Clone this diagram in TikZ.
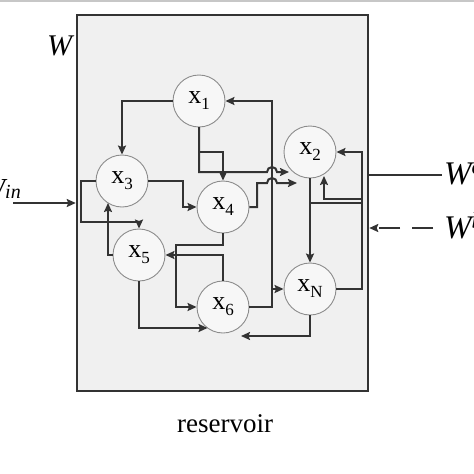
\documentclass[tikz,border=0pt]{standalone}
\usepackage{fontspec}
\setmainfont{Liberation Serif}
\usetikzlibrary{arrows.meta}
\newcommand{\neur}[1]{x\raisebox{-6pt}{\fontsize{17}{17}\selectfont #1}}
\begin{document}
\begin{tikzpicture}[x=1pt,y=-1pt,
  neuron/.style={circle,draw=black!45,line width=0.9pt,fill=white!97!black,minimum size=52pt,inner sep=0pt,font=\fontsize{26}{26}\selectfont},
  wire/.style={draw=black!80,line width=2pt},
  arr/.style={wire,-{Stealth[length=9pt,width=8pt,inset=1.5pt]}},
  lbl/.style={inner sep=0pt,font=\fontsize{30}{30}\selectfont\itshape},
  rlbl/.style={inner sep=0pt,font=\fontsize{33}{33}\selectfont\itshape},
]
\useasboundingbox (0,0) rectangle (474,474);
\fill[white] (0,0) rectangle (474,474);
\fill[black!22] (0,0) rectangle (474,2);
% reservoir box
\node[draw=black!80,line width=2.5pt,fill=black!6,minimum width=291pt,minimum height=376pt,inner sep=0pt] (res) at (222.5,203) {};
% neurons
\node[neuron] (x1) at (199,101) {\neur{1}};
\node[neuron] (x2) at (310,152) {\neur{2}};
\node[neuron] (x3) at (122,181) {\neur{3}};
\node[neuron] (x4) at (223,207) {\neur{4}};
\node[neuron] (x5) at (139,255) {\neur{5}};
\node[neuron] (x6) at (223,307) {\neur{6}};
\node[neuron] (xN) at (310,289) {\neur{N}};
% labels
\node[lbl,anchor=base west] (wres) at (47,55) {W};
\node[inner sep=0pt,anchor=base west,font=\fontsize{27}{27}\selectfont] (rlab) at (177,432) {reservoir};
\node[inner sep=0pt,anchor=base east] (win) at (21,198) {\fontsize{29}{29}\selectfont\itshape W\fontsize{20}{20}\selectfont in};
\node[rlbl,anchor=base west] (wout) at (444,184) {W\textsuperscript{out}};
\node[rlbl,anchor=base west] (wback) at (444,238) {W\textsuperscript{back}};
% coordinates
\coordinate (inS) at (13,203);
\coordinate (outE) at (442,175);
\coordinate (backS) at (433,228);
% input / output
\draw[arr] (inS) -- (inS -| res.west);
\draw[wire,line width=1.5pt] (outE -| res.east) -- (outE);
\draw[arr,dash pattern=on 21pt off 12pt] (backS) -- (backS -| res.east);
% internal connections
\draw[arr] (x1.west) -| (x3.north);
\draw[arr] (x1.south) -- (199,152) -- (223,152) -- (x4.north);
\draw[arr] (x1.south) -- (199,172) -- (267,172) arc[start angle=180,end angle=360,radius=5] -- (289,172);
\draw[arr] (x4.east) -- (257,207) -- (257,183) -- (267,183) arc[start angle=180,end angle=360,radius=5] -- (297,183);
\draw[arr] (x6.east) -- (272,307) -- (272,101) -- (x1.east);
\draw[arr] (272,289) -- (xN.west);
\draw[arr] (x3.east) -- (183,181) -- (183,207) -- (x4.west);
\draw[arr] (x3.west) -- (81,181) -- (81,222) -- (139,222) -- (x5.north);
\draw[arr] (x5.west) -- (108,255) -- (108,203);
\draw[arr] (x4.south) -- (223,245) -- (176,245) -- (176,307) -- (x6.west);
\draw[arr] (x6.north) -- (223,255) -- (x5.east);
\draw[arr] (x5.south) -- (139,328) -- (207.5,328);
\draw[arr] (xN.south) -- (310,336) -- (241,336);
\draw[arr] (x2.south) -- (xN.north);
\draw[wire] (310,203) -- (362,203);
\draw[arr] (362,199) -- (324,199) -- (324,176);
\draw[arr] (xN.east) -- (362,289) -- (362,152) -- (x2.east);
\end{tikzpicture}
\end{document}
